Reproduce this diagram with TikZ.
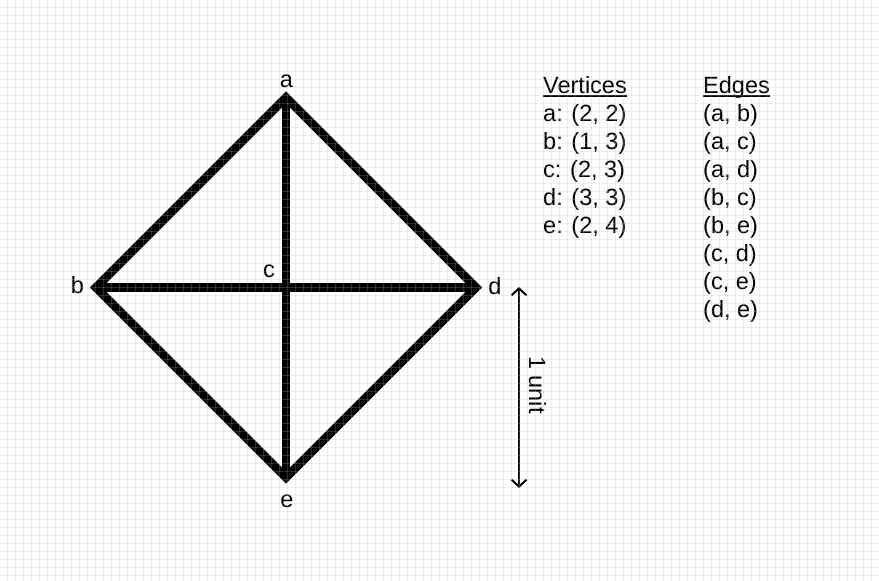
\documentclass[tikz,border=0pt]{standalone}
\usepackage{fontspec}
\setmainfont{Liberation Sans}
\usetikzlibrary{arrows.meta}
\begin{document}
\begin{tikzpicture}[x=1pt,y=-1pt,
  edge/.style={line width=8.6pt,line join=miter,black},
  gridline/.style={line width=1pt,color=black!27,opacity=0.24},
  lbl/.style={inner sep=0pt,anchor=base,font=\fontsize{23.5}{28}\selectfont},
  tbl/.style={inner sep=0pt,anchor=base west,font=\fontsize{23.5}{28}\selectfont},
  uline/.style={line width=1.5pt},
  dim/.style={line width=2pt,{Straight Barb[length=7pt,width=15pt]}-{Straight Barb[length=7pt,width=15pt]}}]
\useasboundingbox (0,0) rectangle (879,581);
\fill[white] (0,0) rectangle (879,581);
% vertices
\coordinate (a) at (286,97.5);
\coordinate (b) at (96,287.5);
\coordinate (c) at (286,287.5);
\coordinate (d) at (476,287.5);
\coordinate (e) at (286,477.5);
\draw[edge] (a) -- (b) -- (e) -- (d) -- cycle;
\draw[edge] (a) -- (e);
\draw[edge] (b) -- (d);
% vertex labels
\node[lbl] (la) at (286.5,87) {a};
\node[lbl] (lb) at (77.5,293) {b};
\node[lbl] (lc) at (269,277) {c};
\node[lbl] (ld) at (495,294) {d};
\node[lbl] (le) at (287,507) {e};
% tables
\node[tbl] (vt) at (543,93.5) {Vertices};
\draw[uline] ([yshift=-2.5pt]vt.base west) -- ([yshift=-2.5pt]vt.base east);
\node[tbl] (v1) at (543,121.5) {a: (2, 2)};
\node[tbl] (v2) at (543,149.5) {b: (1, 3)};
\node[tbl] (v3) at (543,177.5) {c: (2, 3)};
\node[tbl] (v4) at (543,205.5) {d: (3, 3)};
\node[tbl] (v5) at (543,233.5) {e: (2, 4)};
\node[tbl] (et) at (703,93.5) {Edges};
\draw[uline] ([yshift=-2.5pt]et.base west) -- ([yshift=-2.5pt]et.base east);
\node[tbl] (e1) at (703,121.5) {(a, b)};
\node[tbl] (e2) at (703,149.5) {(a, c)};
\node[tbl] (e3) at (703,177.5) {(a, d)};
\node[tbl] (e4) at (703,205.5) {(b, c)};
\node[tbl] (e5) at (703,233.5) {(b, e)};
\node[tbl] (e6) at (703,261.5) {(c, d)};
\node[tbl] (e7) at (703,289.5) {(c, e)};
\node[tbl] (e8) at (703,317.5) {(d, e)};
% unit dimension
\coordinate (u1) at (519,287);
\coordinate (u2) at (519,488);
\draw[dim] (u1) -- (u2);
\node[lbl,rotate=-90] (ul) at (529,385) {1 unit};
% grid overlay
\foreach \i in {0,...,109} {\draw[gridline] (7.5+8*\i,0) -- (7.5+8*\i,581);}
\foreach \j in {0,...,72} {\draw[gridline] (0,7.5+8*\j) -- (879,7.5+8*\j);}
\end{tikzpicture}
\end{document}
